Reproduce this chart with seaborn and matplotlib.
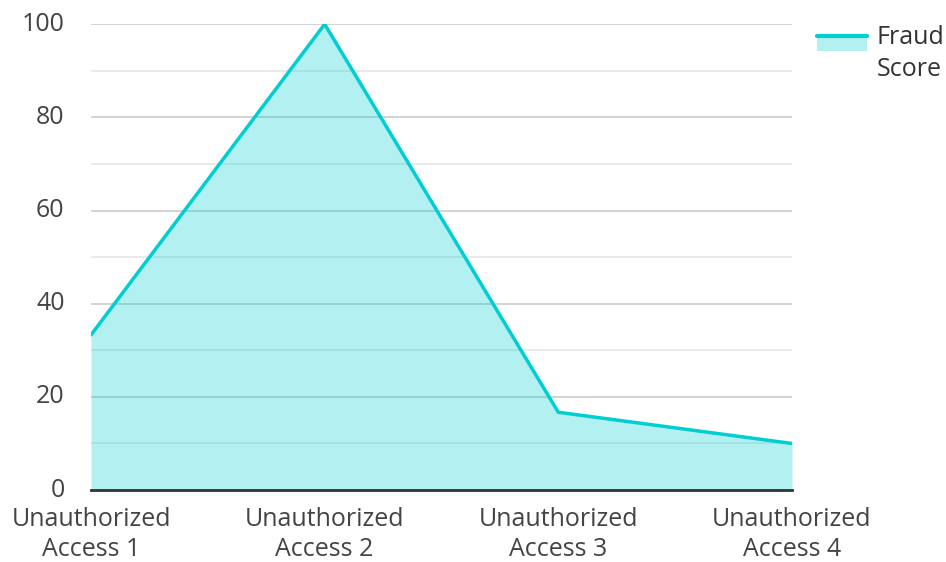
import matplotlib
matplotlib.use('Agg')
import matplotlib.pyplot as plt
import seaborn as sns
import numpy as np
from matplotlib.patches import Rectangle
from matplotlib.lines import Line2D
from matplotlib.legend_handler import HandlerBase

# ── Data ───────────────────────────────────────────────────────────────────
categories = ['Unauthorized\nAccess 1', 'Unauthorized\nAccess 2',
              'Unauthorized\nAccess 3', 'Unauthorized\nAccess 4']
fraud_score = [33.3, 100, 16.7, 10]
series_name = 'Fraud\nScore'

LINE_COLOR = '#00CED1'
TEXT_COLOR = '#444444'

sns.set_style('white')
plt.rcParams['font.family'] = ['Open Sans', 'DejaVu Sans']


class AreaHandler(HandlerBase):
    # filled box with the line along its top edge, lifted to the first text line
    def create_artists(self, legend, orig_handle, xdescent, ydescent,
                       width, height, fontsize, trans):
        y0 = -ydescent + 8
        rect = Rectangle((-xdescent, y0), width, height,
                         facecolor=LINE_COLOR, alpha=0.3, edgecolor='none',
                         transform=trans)
        line = Line2D([-xdescent, -xdescent + width],
                      [y0 + height, y0 + height],
                      color=LINE_COLOR, linewidth=3, transform=trans)
        return [rect, line]


fig = plt.figure(figsize=(9.46, 5.62), dpi=100)
ax = fig.add_axes([0.0962, 0.128, 0.741, 0.829])

x = np.arange(len(categories))
sns.lineplot(x=x, y=fraud_score, ax=ax, color=LINE_COLOR, linewidth=2.5)
ax.fill_between(x, fraud_score, 0, color=LINE_COLOR, alpha=0.3, linewidth=0)

ax.set_xlim(0, len(categories) - 1)
ax.set_ylim(0, 100)
ax.set_xticks(x)
ax.set_xticklabels(categories, linespacing=1.3)
ax.set_yticks(np.arange(0, 101, 20))
ax.set_yticks(np.arange(10, 100, 20), minor=True)

ax.grid(axis='y', which='major', color='#cccccc', linewidth=1.2)
ax.grid(axis='y', which='minor', color='#e6e6e6', linewidth=1.2)
ax.set_axisbelow(True)

for side in ['top', 'right', 'left']:
    ax.spines[side].set_visible(False)
ax.spines['bottom'].set_color('#333333')
ax.spines['bottom'].set_linewidth(2)

ax.tick_params(axis='both', which='both', length=0, labelsize=18,
               labelcolor=TEXT_COLOR)
ax.tick_params(axis='x', pad=12)
ax.tick_params(axis='y', pad=19)
for lbl in ax.get_yticklabels():
    lbl.set_verticalalignment('center')

handle = Rectangle((0, 0), 1, 1)
leg = fig.legend([handle], [series_name], handler_map={Rectangle: AreaHandler()},
                 loc='upper left', bbox_to_anchor=(0.8636, 0.955),
                 frameon=False, fontsize=18, handlelength=2.0,
                 handleheight=0.55, handletextpad=0.4,
                 borderpad=0, borderaxespad=0)
for t in leg.get_texts():
    t.set_color('#333333')
    t.set_linespacing(1.35)

fig.savefig('out.png', dpi=100)
plt.close(fig)
